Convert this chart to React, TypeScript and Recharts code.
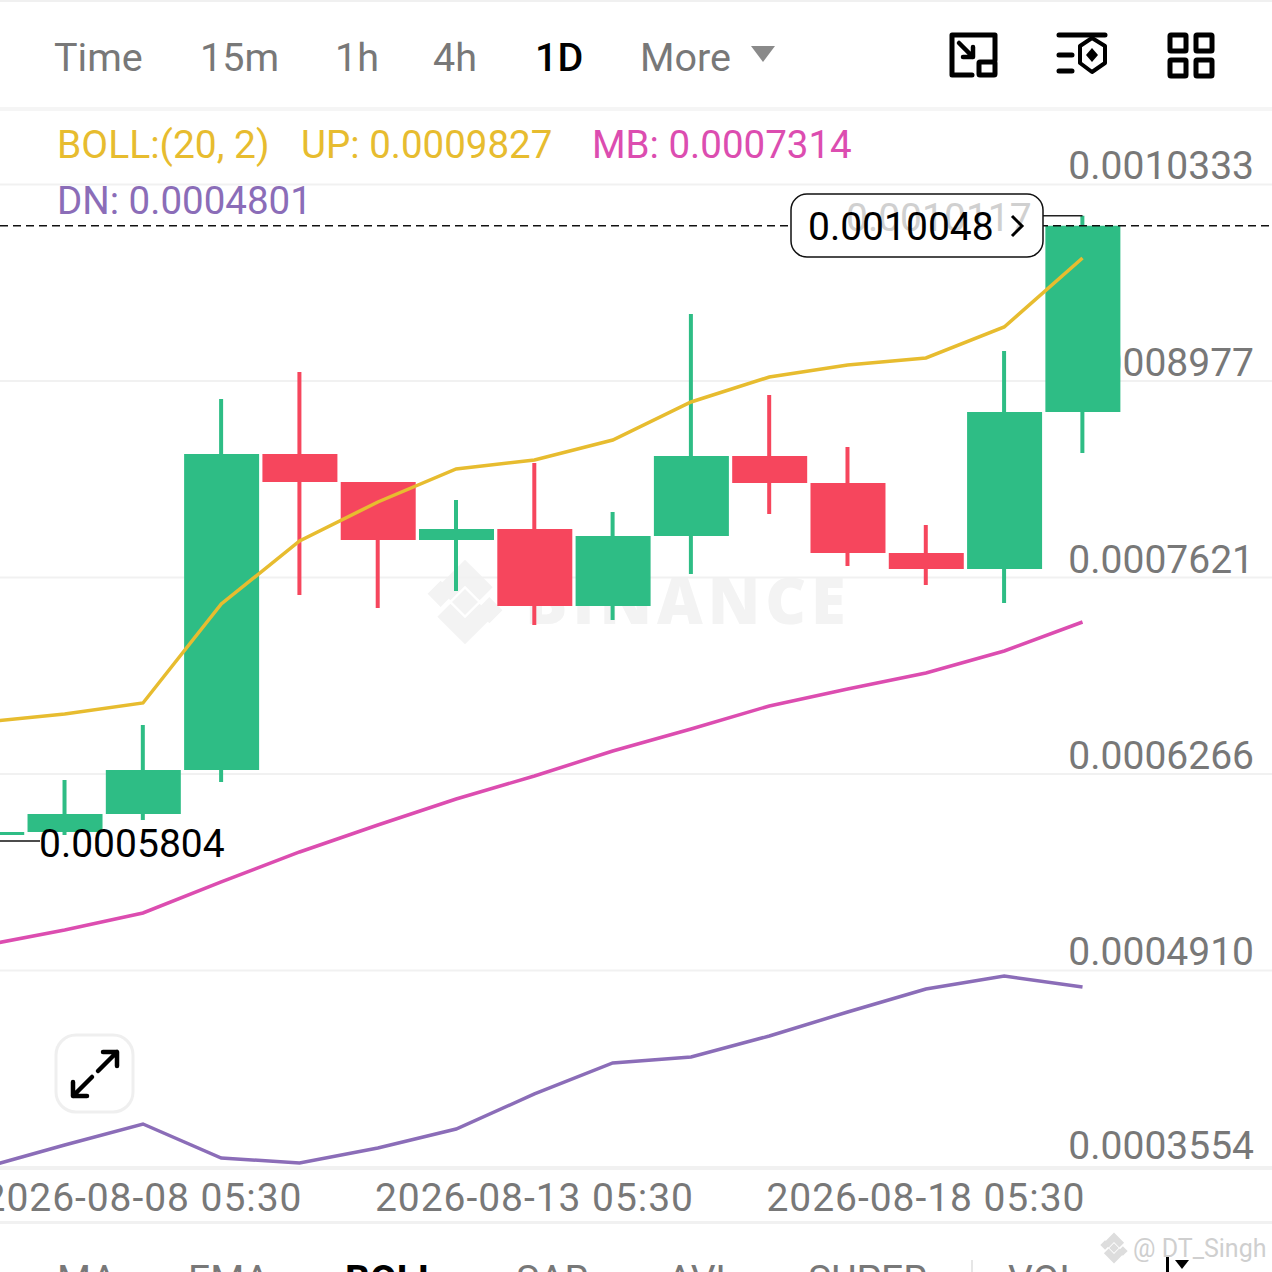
import React from 'react';
import { ComposedChart, Bar, Line, XAxis, YAxis, CartesianGrid, ReferenceLine, Cell } from 'recharts';

const indices = [-1, 0, 1, 2, 3, 4, 5, 6, 7, 8, 9, 10, 11, 12, 13];
const opens = [0.00058448, 0.00058655, 0.00059897, 0.00062933, 0.00084736, 0.00082804, 0.00078802, 0.00079561, 0.00074248, 0.00079078, 0.00084598, 0.00082735, 0.00077905, 0.00076801, 0.00087633];
const closes = [0.00058655, 0.00059897, 0.00062933, 0.00084736, 0.00082804, 0.00078802, 0.00079561, 0.00074248, 0.00079078, 0.00084598, 0.00082735, 0.00077905, 0.00076801, 0.00087633, 0.0010048];
const highs = [0.00058655, 0.00062243, 0.00066038, 0.0008853, 0.00090393, 0.00082804, 0.00081562, 0.00084115, 0.00080734, 0.00094395, 0.00088806, 0.00085219, 0.00079837, 0.00091842, 0.0010117];
const lows = [0.0005804, 0.00058455, 0.00059483, 0.00062105, 0.00075007, 0.0007411, 0.00075283, 0.00072937, 0.00073282, 0.00076456, 0.00080596, 0.00077008, 0.00075697, 0.00074455, 0.00084805];
const bollUp = [0.00066245, 0.00066797, 0.00067556, 0.00074386, 0.00078733, 0.00081424, 0.000837, 0.00084322, 0.00085702, 0.00088323, 0.00090048, 0.00090876, 0.00091359, 0.00093498, 0.00098259];
const bollMid = [0.00050859, 0.00051893, 0.00053066, 0.00055205, 0.00057275, 0.00059138, 0.00060932, 0.00062519, 0.00064244, 0.00065762, 0.00067349, 0.00068522, 0.00069625, 0.00071143, 0.00073144];
const bollDn = [0.00035541, 0.00037059, 0.00038508, 0.00036162, 0.00035817, 0.00036852, 0.00038163, 0.00040578, 0.00042717, 0.00043131, 0.0004458, 0.00046236, 0.00047823, 0.00048719, 0.0004796];

const yTicks = [0.0010333, 0.0008977, 0.0007621, 0.0006266, 0.000491, 0.0003554];
const yTickLabels = ['0.0010333', '0.0008977', '0.0007621', '0.0006266', '0.0004910', '0.0003554'];
const xTicks = [1, 6, 11];
const xTickLabels = ['2026-08-08 05:30', '2026-08-13 05:30', '2026-08-18 05:30'];

const lastPrice = 0.0010048;
const highPrice = 0.0010117;
const lowPrice = 0.0005804;

const periods = ['Time', '15m', '1h', '4h', '1D', 'More'];
const indicators = ['MA', 'EMA', 'BOLL', 'SAR', 'AVL', 'SUPER', 'VOL'];

const GREEN = '#2EBD85';
const RED = '#F6465D';
const GRAY = '#787878';
const FONT = 'Roboto, sans-serif';

const rows = indices.map((x, i) => ({
  x,
  body: [Math.min(opens[i], closes[i]), Math.max(opens[i], closes[i])],
  wick: [lows[i], highs[i]],
  up: bollUp[i],
  mid: bollMid[i],
  dn: bollDn[i],
  color: closes[i] >= opens[i] ? GREEN : RED,
}));

const XDOMAIN: [number, number] = [-0.826, 15.42];
const YDOMAIN: [number, number] = [0.0003554, 0.0010847];
const MARGIN = { top: 110, right: 0, bottom: 55, left: 0 };

const YTick = (p: any) => {
  const i = yTicks.indexOf(p.payload.value);
  return (
    <text x={1254} y={p.y - (i === yTicks.length - 1 ? 8 : 5)} textAnchor="end" fontFamily={FONT} fontSize={39} fill={GRAY}>
      {yTickLabels[i]}
    </text>
  );
};

const XTick = (p: any) => {
  const i = xTicks.indexOf(p.payload.value);
  return (
    <text x={p.x} y={1211} textAnchor="middle" fontFamily={FONT} fontSize={39} letterSpacing={0.95} fill={GRAY}>
      {xTickLabels[i]}
    </text>
  );
};

const periodX = [54, 200, 335, 433, 535, 640];
const indicatorX = [57, 188, 345, 516, 667, 808, 1008];

const Logo = ({ cx, cy, s, fill }: any) => (
  <g transform={`translate(${cx} ${cy}) scale(${s}) rotate(45)`} fill={fill}>
    <rect x={-8} y={-8} width={16} height={16} />
    <rect x={-26} y={-26} width={16} height={16} transform="translate(-2 28)" />
    <rect x={10} y={10} width={16} height={16} transform="translate(2 -28)" />
    <path d="M-26 -26 H8 V-10 H-10 V8 H-26 Z" />
    <path d="M26 26 H-8 V10 H10 V-8 H26 Z" />
  </g>
);

const layer: React.CSSProperties = { position: 'absolute', left: 0, top: 0 };

export default function App() {
  return (
    <div style={{ position: 'absolute', left: 0, top: 0, width: 1272, height: 1272, overflow: 'hidden', background: '#fff' }}>
      <svg width={1272} height={1272} style={layer}>
        <Logo cx={465} cy={602} s={1.15} fill="#F3F3F3" />
        <text x={525} y={624} fontFamily="'Open Sans', sans-serif" fontWeight={800} fontSize={63} fill="#F3F3F3" letterSpacing={5}>BINANCE</text>
      </svg>
      <div style={layer}>
        <ComposedChart width={1272} height={1272} data={rows} margin={MARGIN}>
          <CartesianGrid xAxisId="base" stroke="#F1F1F1" strokeWidth={2} horizontalValues={yTicks} verticalValues={xTicks} />
          <XAxis xAxisId="base" type="number" dataKey="x" domain={XDOMAIN} allowDataOverflow ticks={xTicks} interval={0} height={50} tick={false} axisLine={false} tickLine={false} />
          <YAxis type="number" orientation="right" mirror width={1} domain={YDOMAIN} allowDataOverflow ticks={yTicks} interval={0} tick={<YTick />} axisLine={false} tickLine={false} />
        </ComposedChart>
      </div>
      <div style={layer}>
        <ComposedChart width={1272} height={1272} data={rows} margin={MARGIN}>
          <XAxis xAxisId="body" type="number" dataKey="x" domain={XDOMAIN} allowDataOverflow ticks={xTicks} interval={0} height={50} tick={<XTick />} axisLine={false} tickLine={false} />
          <XAxis xAxisId="wick" type="number" dataKey="x" domain={XDOMAIN} allowDataOverflow hide />
          <YAxis type="number" hide domain={YDOMAIN} allowDataOverflow />
          <Bar xAxisId="wick" dataKey="wick" barSize={4} isAnimationActive={false}>
            {rows.map((r) => <Cell key={r.x} fill={r.color} />)}
          </Bar>
          <Bar xAxisId="body" dataKey="body" barSize={75} isAnimationActive={false}>
            {rows.map((r) => <Cell key={r.x} fill={r.color} />)}
          </Bar>
          <Line xAxisId="body" dataKey="up" stroke="#E7BC2F" strokeWidth={3.5} dot={false} activeDot={false} type="linear" isAnimationActive={false} />
          <Line xAxisId="body" dataKey="mid" stroke="#DC4DB0" strokeWidth={3.5} dot={false} activeDot={false} type="linear" isAnimationActive={false} />
          <Line xAxisId="body" dataKey="dn" stroke="#8B6DB8" strokeWidth={3.5} dot={false} activeDot={false} type="linear" isAnimationActive={false} />
          <ReferenceLine xAxisId="body" y={lastPrice} stroke="#111" strokeWidth={1.5} strokeDasharray="8 5" />
          <ReferenceLine xAxisId="body" segment={[{ x: 12.49, y: highPrice }, { x: 13, y: highPrice }]} stroke="#222" strokeWidth={1.5} />
          <ReferenceLine xAxisId="body" segment={[{ x: -0.826, y: lowPrice }, { x: -0.315, y: lowPrice }]} stroke="#111" strokeWidth={1.5} />
        </ComposedChart>
      </div>
      <svg width={1272} height={1272} style={{ ...layer, pointerEvents: 'none' }}>
        <rect x={0} y={0} width={1272} height={2} fill="#F0F0F0" />
        <rect x={0} y={107} width={1272} height={4} fill="#F5F5F5" />
        <rect x={0} y={1167} width={1272} height={3} fill="#F1F1F1" />
        <rect x={0} y={1221} width={1272} height={3} fill="#F1F1F1" />

        {periods.map((p, i) => (
          <text key={p} x={periodX[i]} y={71} fontFamily={FONT} fontSize={39.5} fontWeight={p === '1D' ? 500 : 400} fill={p === '1D' ? '#000' : GRAY}>{p}</text>
        ))}
        <path d="M751 46 H775 L763 62 Z" fill="#8A8A8A" />

        <g fill="none" stroke="#000" strokeWidth={5} strokeLinejoin="round" strokeLinecap="round">
          <path d="M995 60 V35 H952 V75 H972" />
          <rect x={979} y={62} width={16} height={13} rx={1} />
          <path d="M959 43 L973 57 M973 47 V57 H963" strokeWidth={4.5} />
          <path d="M1059 35 H1105 M1059 55 H1072 M1059 71 H1072" />
          <path d="M1092 38 L1105 46 V63 L1092 72 L1080 63 V46 Z" strokeWidth={4} />
          <rect x={1170} y={35} width={16} height={16} rx={1} />
          <rect x={1196} y={35} width={16} height={16} rx={1} />
          <rect x={1170} y={60} width={16} height={16} rx={1} />
          <rect x={1196} y={60} width={16} height={16} rx={1} />
        </g>
        <path d="M1092 48 L1098 55 L1092 62 L1086 55 Z" fill="#000" />

        <text x={57} y={158} fontFamily={FONT} fontSize={39} fill="#E7BC2F">BOLL:(20, 2)</text>
        <text x={301} y={158} fontFamily={FONT} fontSize={38.5} fill="#E7BC2F">UP: 0.0009827</text>
        <text x={592} y={158} fontFamily={FONT} fontSize={38.5} fill="#DC4DB0">MB: 0.0007314</text>
        <text x={57} y={214} fontFamily={FONT} fontSize={38.5} fill="#8B6DB8">DN: 0.0004801</text>

        <rect x={791} y={194} width={252} height={63} rx={16} fill="#fff" stroke="#111" strokeWidth={1.5} />
        <text x={846} y={231} fontFamily={FONT} fontSize={39} fill="#D0D0D0">0.0010117</text>
        <text x={808} y={240} fontFamily={FONT} fontSize={39} fill="#000">0.0010048</text>
        <path d="M1012 216 L1022 226 L1012 236" fill="none" stroke="#000" strokeWidth={3} />

        <text x={39} y={857} fontFamily={FONT} fontSize={39} fill="#000">0.0005804</text>

        <rect x={56} y={1035} width={77} height={77} rx={20} fill="#fff" stroke="#EFEFEF" strokeWidth={3} />
        <path d="M98 1071 L117 1052 M103 1052 H117 V1066 M92 1077 L73 1096 M73 1082 V1096 H87" fill="none" stroke="#000" strokeWidth={4.5} strokeLinecap="round" strokeLinejoin="round" />

        {indicators.map((t, i) => (
          <text key={t} x={indicatorX[i]} y={1293} fontFamily={FONT} fontSize={39} fontWeight={t === 'BOLL' ? 700 : 400} fill={t === 'BOLL' ? '#000' : GRAY}>{t}</text>
        ))}
        <rect x={971} y={1260} width={2} height={12} fill="#E6E6E6" />
        <rect x={1166} y={1257} width={3} height={15} fill="#000" />
        <path d="M1175 1260 H1189 L1182 1269 Z" fill="#000" />

        <Logo cx={1114} cy={1248} s={0.42} fill="#DDDDDD" />
        <text x={1133} y={1257} fontFamily={FONT} fontSize={25} fill="#CFCFCF">@ DT_Singh</text>
      </svg>
    </div>
  );
}
